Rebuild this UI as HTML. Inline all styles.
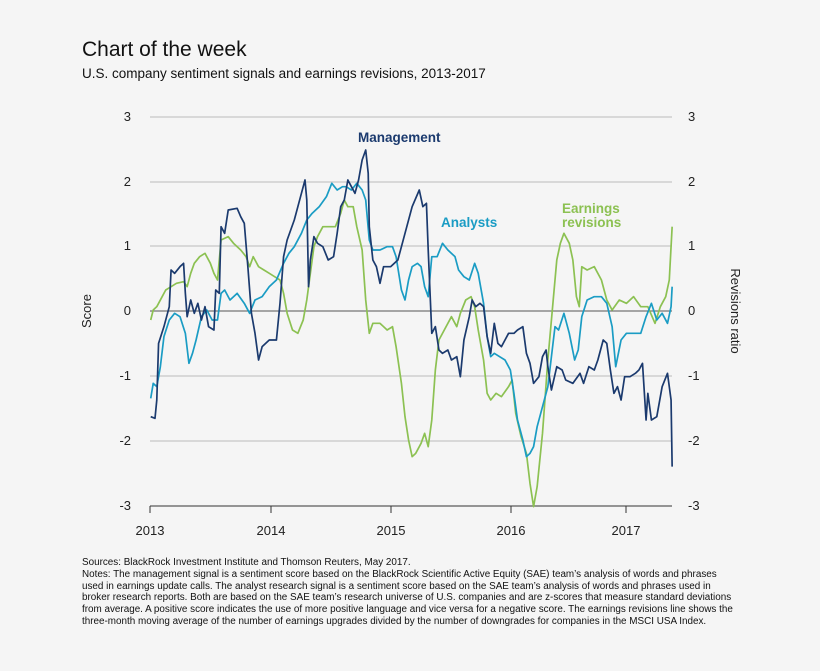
<!DOCTYPE html>
<html><head><meta charset="utf-8"><style>
body{margin:0;background:#f5f5f5;font-family:"Liberation Sans",Arial,sans-serif;}
#w{position:relative;width:820px;height:671px;overflow:hidden;background:#f5f5f5;}
.t{position:absolute;white-space:nowrap;color:#111;}
</style></head><body><div id="w">
<div class="t" style="left:82px;top:38px;font-size:21px;">Chart of the week</div>
<div class="t" style="left:82px;top:66px;font-size:13.5px;">U.S. company sentiment signals and earnings revisions, 2013-2017</div>
<svg width="820" height="671" style="position:absolute;left:0;top:0" font-family="Liberation Sans, Arial, sans-serif">
<g stroke="#c8c8c8" stroke-width="1.3">
<line x1="150" y1="117" x2="672" y2="117"/><line x1="150" y1="182" x2="672" y2="182"/>
<line x1="150" y1="246" x2="672" y2="246"/><line x1="150" y1="376" x2="672" y2="376"/>
<line x1="150" y1="441" x2="672" y2="441"/></g>
<line x1="150" y1="311" x2="672" y2="311" stroke="#555" stroke-width="1"/>
<line x1="150" y1="506" x2="672" y2="506" stroke="#333" stroke-width="1"/>
<g stroke="#333"><line x1="150" y1="506" x2="150" y2="513"/><line x1="271" y1="506" x2="271" y2="513"/><line x1="391" y1="506" x2="391" y2="513"/><line x1="511" y1="506" x2="511" y2="513"/><line x1="626" y1="506" x2="626" y2="513"/></g>
<g font-size="13" fill="#222" text-anchor="middle">
<text x="150" y="535">2013</text><text x="271" y="535">2014</text><text x="391" y="535">2015</text><text x="511" y="535">2016</text><text x="626" y="535">2017</text></g>
<g font-size="13" fill="#222" text-anchor="end">
<text x="131" y="121">3</text><text x="131" y="186">2</text><text x="131" y="250">1</text><text x="131" y="315">0</text><text x="131" y="380">-1</text><text x="131" y="445">-2</text><text x="131" y="510">-3</text></g>
<g font-size="13" fill="#222" text-anchor="start">
<text x="688" y="121">3</text><text x="688" y="186">2</text><text x="688" y="250">1</text><text x="688" y="315">0</text><text x="688" y="380">-1</text><text x="688" y="445">-2</text><text x="688" y="510">-3</text></g>
<text font-size="13" fill="#222" text-anchor="middle" transform="translate(91,311) rotate(-90)">Score</text>
<text font-size="13" fill="#222" text-anchor="middle" transform="translate(731,311) rotate(90)">Revisions ratio</text>
<g transform="translate(130,100) scale(0.35714,0.33333)" fill="none" stroke-linejoin="round">
<polyline vector-effect="non-scaling-stroke" stroke="#8cc152" stroke-width="1.7" points="58,660 65,630 75,620 90,590 100,570 115,560 130,550 150,545 160,560 170,520 180,490 195,470 210,460 225,490 235,520 245,540 255,420 275,410 290,430 310,450 325,470 335,500 345,470 360,500 375,510 390,520 405,530 420,540 430,580 440,640 455,690 470,700 485,660 495,600 505,520 515,440 525,410 540,380 555,380 575,380 590,340 600,300 610,320 625,320 635,380 650,450 660,600 670,700 680,670 700,670 720,690 735,680 745,740 760,850 770,950 780,1020 790,1070 800,1060 815,1030 825,1000 835,1040 845,960 855,810 865,720 880,690 900,650 915,680 925,640 940,600 955,590 965,620 975,690 990,780 1000,880 1010,900 1025,880 1040,890 1060,860 1070,840 1080,940 1095,1010 1110,1060 1120,1150 1130,1220 1140,1160 1155,1000 1170,780 1185,600 1195,480 1205,430 1215,400 1230,430 1240,480 1250,590 1258,620 1265,500 1280,510 1300,500 1320,540 1335,600 1350,630 1370,600 1390,610 1410,590 1430,620 1450,620 1470,670 1485,620 1500,590 1510,540 1518,380"/>
<polyline vector-effect="non-scaling-stroke" stroke="#1a9cc4" stroke-width="1.7" points="58,895 65,850 75,860 85,800 95,710 110,660 125,640 140,650 155,700 165,790 175,760 185,720 200,650 215,630 230,660 245,660 255,580 265,570 280,600 300,580 320,610 335,640 350,600 370,590 390,560 410,540 430,490 445,460 460,440 480,400 495,360 510,340 530,320 550,290 565,250 580,270 595,260 605,260 620,270 635,250 650,270 660,300 670,420 680,450 700,450 720,440 735,440 745,470 760,570 770,600 780,540 790,500 805,490 815,500 825,560 835,590 845,470 860,470 875,430 890,450 910,470 920,510 935,530 950,540 965,490 975,520 990,610 1000,710 1010,770 1020,760 1035,770 1050,780 1065,810 1075,880 1085,960 1100,1020 1110,1070 1120,1060 1130,1040 1140,980 1155,920 1170,860 1180,770 1190,680 1200,690 1215,640 1230,700 1245,780 1255,750 1265,650 1280,600 1300,590 1320,590 1335,610 1350,680 1360,800 1375,720 1390,700 1410,700 1430,700 1445,650 1460,610 1475,660 1490,640 1505,670 1515,620 1518,560"/>
<polyline vector-effect="non-scaling-stroke" stroke="#1b3a6e" stroke-width="1.7" points="58,950 70,955 75,900 80,730 95,680 110,620 115,510 125,520 140,500 150,490 155,580 160,650 170,600 180,640 190,610 200,660 210,620 220,680 235,690 240,570 250,580 255,380 265,400 275,330 300,325 310,350 320,370 330,500 340,640 350,700 360,780 370,740 390,720 410,720 420,610 430,470 440,420 450,390 460,360 470,320 480,280 490,240 495,300 500,560 505,480 515,410 525,430 540,440 555,480 570,470 580,400 590,320 600,300 610,240 620,260 630,280 640,240 650,180 660,150 667,220 670,380 680,480 690,500 700,550 710,500 730,500 750,480 760,440 775,380 790,320 810,270 820,320 830,310 835,450 845,700 855,680 865,750 875,760 890,750 900,780 915,770 925,830 935,720 950,650 958,600 968,620 980,610 990,620 1000,710 1010,760 1020,670 1030,730 1040,740 1050,720 1060,700 1075,700 1085,690 1100,680 1110,760 1120,790 1130,850 1145,830 1155,770 1165,750 1170,800 1180,870 1195,800 1210,810 1220,840 1240,850 1260,820 1270,850 1285,800 1300,810 1310,780 1325,720 1335,730 1345,810 1355,880 1365,860 1375,900 1385,830 1400,830 1415,820 1425,810 1435,790 1445,960 1450,880 1460,960 1475,950 1490,860 1505,820 1515,900 1518,1100"/>
</g>
<g font-size="13.5" font-weight="bold">
<text x="358" y="142" fill="#1b3a6e">Management</text>
<text x="441" y="227" fill="#1a9cc4">Analysts</text>
<text x="562" y="213" fill="#8cc152">Earnings</text>
<text x="562" y="227" fill="#8cc152">revisions</text></g>
</svg>
<div class="t" style="left:82px;top:557px;font-size:9.9px;line-height:11.8px;white-space:normal;width:655px;">Sources: BlackRock Investment Institute and Thomson Reuters, May 2017.<br>Notes: The management signal is a sentiment score based on the BlackRock Scientific Active Equity (SAE) team’s analysis of words and phrases used in earnings update calls. The analyst research signal is a sentiment score based on the SAE team’s analysis of words and phrases used in broker research reports. Both are based on the SAE team’s research universe of U.S. companies and are z-scores that measure standard deviations from average. A positive score indicates the use of more positive language and vice versa for a negative score. The earnings revisions line shows the three-month moving average of the number of earnings upgrades divided by the number of downgrades for companies in the MSCI USA Index.</div>
</div></body></html>
